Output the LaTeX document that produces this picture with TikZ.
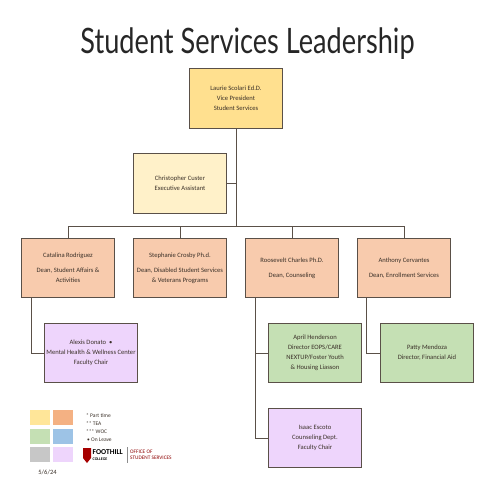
\documentclass[tikz,border=0pt]{standalone}
\usepackage{graphicx}
\usepackage{fontspec}
\setmainfont{Carlito}
\newfontfamily\titlefont{Lato}
\definecolor{edge}{HTML}{5A5048}
\definecolor{vp}{HTML}{FFE08F}
\definecolor{ea}{HTML}{FFF1C9}
\definecolor{dean}{HTML}{F8CBAD}
\definecolor{fac}{HTML}{EED5FC}
\definecolor{dir}{HTML}{C5E0B4}
\definecolor{ink}{HTML}{3A3028}
\definecolor{legorange}{HTML}{F4B183}
\definecolor{legblue}{HTML}{9DC3E6}
\definecolor{legyellow}{HTML}{FFE699}
\tikzset{
  box/.style={draw=edge,line width=0.9pt,minimum width=92.5pt,minimum height=59.5pt,inner sep=0pt,align=center,font=\fontsize{6.6}{10}\selectfont,text=ink},
  wire/.style={draw=edge,line width=0.9pt},
  leg/.style={minimum width=20pt,minimum height=15pt,inner sep=0pt},
  small/.style={inner sep=0pt,anchor=west,font=\fontsize{5.5}{6}\selectfont,text=ink}
}
\begin{document}
\begin{tikzpicture}[x=1pt,y=-1pt]
\useasboundingbox (0,0) rectangle (495,495);
\node (title) [inner sep=0pt,font=\titlefont\fontsize{35}{40}\selectfont,text=black!85] at (247.5,44) {\scalebox{0.776}[1]{Student Services Leadership}};
\node (vp) [box,fill=vp] at (236,98.5) {Laurie Scolari Ed.D.\\Vice President\\Student Services};
\node (ea) [box,fill=ea] at (180,183.5) {Christopher Custer\\Executive Assistant};
\coordinate (bus) at (236,226);
\coordinate (busl) at (68,226);
\coordinate (busr) at (404,226);
\node (d1) [box,fill=dean] at (68,268) {Catalina Rodriguez\\[5pt]Dean, Student Affairs \&\\Activities};
\node (d2) [box,fill=dean] at (180,268) {Stephanie Crosby Ph.d.\\[5pt]Dean, Disabled Student Services\\\& Veterans Programs};
\node (d3) [box,fill=dean] at (292,268) {Roosevelt Charles Ph.D.\\[5pt]Dean, Counseling};
\node (d4) [box,fill=dean] at (404,268) {Anthony Cervantes\\[5pt]Dean, Enrollment Services};
\node (alexis) [box,fill=fac] at (91,353) {Alexis Donato \ \textbullet\\Mental Health \& Wellness Center\\Faculty Chair};
\node (april) [box,fill=dir] at (315,353) {April Henderson\\Director EOPS/CARE\\NEXTUP/Foster Youth\\\& Housing Liasson};
\node (patty) [box,fill=dir] at (427,353) {Patty Mendoza\\Director, Financial Aid};
\node (isaac) [box,fill=fac] at (315,438) {Isaac Escoto\\Counseling Dept.\\Faculty Chair};
\draw[wire] (vp.south) -- (bus);
\draw[wire] (ea.east) -- (ea.east -| vp.south);
\draw[wire] (busl) -- (busr);
\draw[wire] (busl) -- (d1.north);
\draw[wire] (d2.north |- bus) -- (d2.north);
\draw[wire] (d3.north |- bus) -- (d3.north);
\draw[wire] (busr) -- (d4.north);
\coordinate (t1) at (31,298);
\draw[wire] (t1) |- (alexis.west);
\coordinate (t3) at (255,298);
\draw[wire] (t3) |- (isaac.west);
\draw[wire] (t3 |- april.west) -- (april.west);
\coordinate (t4) at (366.5,298);
\draw[wire] (t4) |- (patty.west);
\node (l1) [leg,fill=legyellow] at (40,417.5) {};
\node (l2) [leg,fill=legorange] at (63,417.5) {};
\node (l3) [leg,fill=dir] at (40,436) {};
\node (l4) [leg,fill=legblue] at (63,436) {};
\node (l5) [leg,fill=black!22] at (40,454.5) {};
\node (l6) [leg,fill=fac] at (63,454.5) {};
\node (n1) [small] at (86,416) {* Part time};
\node (n2) [small] at (86,424) {** TEA};
\node (n3) [small] at (86,432) {*** WOC};
\node (n4) [small] at (87,439.5) {\textbullet\ On Leave};
\node (date) [inner sep=0pt,font=\fontsize{6.5}{7}\selectfont,text=ink] at (47.5,472) {5/6/24};
\fill[red!65!black] (83,448) -- (91,448) -- (91,458) -- (87,463) -- (83,458) -- cycle;
\node (foothill) [inner sep=0pt,anchor=west,font=\fontsize{7.5}{8}\bfseries\selectfont,text=black] at (92.5,452.5) {FOOTHILL};
\node (college) [inner sep=0pt,anchor=west,font=\fontsize{4}{4}\bfseries\selectfont,text=black] at (92.5,459) {COLLEGE};
\draw[black!45,line width=0.4pt] (127,447) -- (127,463);
\node (office) [inner sep=0pt,anchor=west,align=left,font=\fontsize{5.3}{6.5}\selectfont,text=red!55!black] at (130,455) {OFFICE OF\\STUDENT SERVICES};
\end{tikzpicture}
\end{document}
